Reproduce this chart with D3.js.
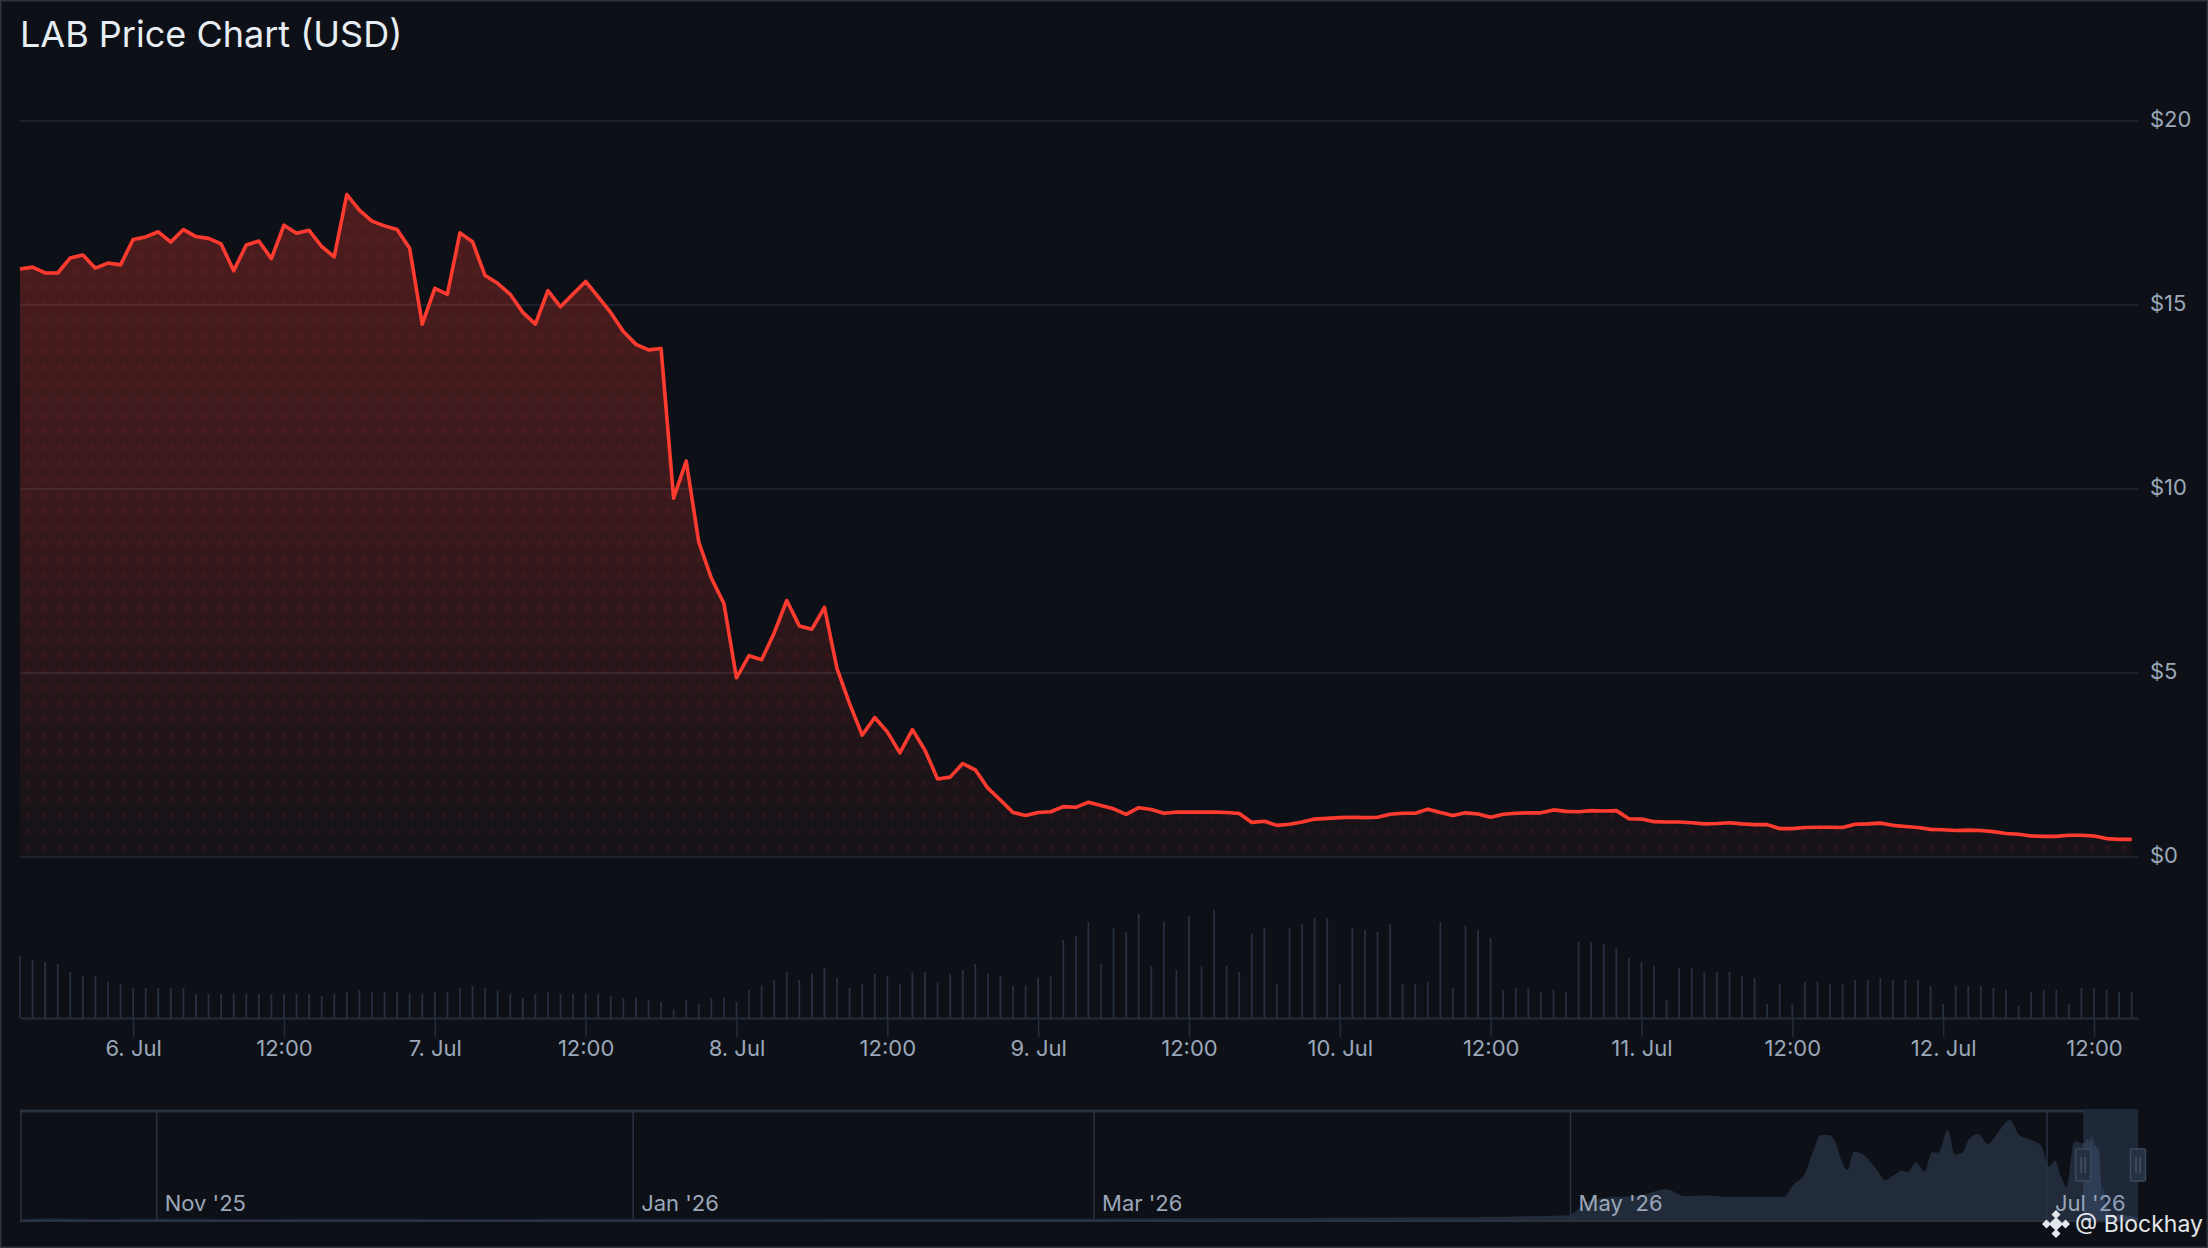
<!DOCTYPE html>
<html>
<head>
<meta charset="utf-8">
<script src="https://cdn.jsdelivr.net/npm/d3@7"></script>
<style>
  html, body { margin: 0; padding: 0; background: #0d1117; }
  svg { display: block; font-family: Inter, "Noto Sans", sans-serif; }
</style>
</head>
<body>
<div id="chart"></div>
<script>
// hourly data, first point 5 Jul 2026 15:00
var startTime = new Date(2026, 6, 5, 15, 0);

var priceValues = [
  15.98, 16.03, 15.87, 15.87, 16.28, 16.36, 16.00, 16.14, 16.09, 16.78,
  16.85, 16.99, 16.71, 17.05, 16.86, 16.81, 16.66, 15.93, 16.63, 16.74,
  16.26, 17.17, 16.95, 17.03, 16.59, 16.31, 18.00, 17.58, 17.28, 17.15,
  17.05, 16.54, 14.48, 15.45, 15.29, 16.96, 16.72, 15.80, 15.59, 15.29,
  14.80, 14.48, 15.39, 14.95, 15.30, 15.64, 15.22, 14.79, 14.28, 13.93,
  13.78, 13.82, 9.75, 10.76, 8.56, 7.58, 6.89, 4.87, 5.47, 5.36,
  6.09, 6.97, 6.28, 6.19, 6.78, 5.12, 4.17, 3.31, 3.79, 3.40,
  2.83, 3.46, 2.90, 2.12, 2.17, 2.54, 2.37, 1.87, 1.55, 1.21,
  1.13, 1.21, 1.23, 1.37, 1.35, 1.49, 1.40, 1.31, 1.16, 1.34,
  1.29, 1.19, 1.22, 1.22, 1.22, 1.22, 1.21, 1.18, 0.94, 0.97,
  0.86, 0.89, 0.95, 1.03, 1.05, 1.07, 1.08, 1.07, 1.08, 1.16,
  1.19, 1.19, 1.30, 1.21, 1.13, 1.20, 1.17, 1.08, 1.16, 1.19,
  1.20, 1.20, 1.28, 1.24, 1.23, 1.26, 1.25, 1.26, 1.04, 1.03,
  0.96, 0.95, 0.95, 0.93, 0.90, 0.91, 0.93, 0.90, 0.88, 0.88,
  0.77, 0.77, 0.80, 0.81, 0.81, 0.80, 0.89, 0.90, 0.92, 0.86,
  0.83, 0.80, 0.75, 0.74, 0.72, 0.73, 0.72, 0.69, 0.64, 0.62,
  0.57, 0.56, 0.56, 0.59, 0.59, 0.57, 0.50, 0.48, 0.48
];

// volume in M USD
var volumeValues = [
  6.2, 5.8, 5.6, 5.4, 4.6, 4.2, 4.2, 3.6, 3.4, 3.0,
  3.0, 3.0, 3.0, 3.0, 2.4, 2.4, 2.4, 2.4, 2.4, 2.4,
  2.4, 2.4, 2.4, 2.4, 2.2, 2.4, 2.6, 2.8, 2.6, 2.6,
  2.6, 2.4, 2.4, 2.6, 2.6, 3.0, 3.2, 3.0, 2.8, 2.4,
  2.0, 2.4, 2.6, 2.4, 2.4, 2.4, 2.4, 2.2, 2.0, 2.0,
  1.8, 1.6, 0.8, 1.8, 1.4, 2.0, 2.0, 1.6, 2.8, 3.2,
  3.8, 4.6, 3.8, 4.4, 5.0, 4.0, 3.0, 3.4, 4.4, 4.2,
  3.4, 4.6, 4.6, 3.6, 4.4, 4.8, 5.4, 4.4, 4.2, 3.2,
  3.2, 4.0, 4.2, 7.8, 8.2, 9.6, 5.4, 9.0, 8.6, 10.4,
  5.2, 9.6, 4.8, 10.2, 5.2, 10.8, 5.2, 4.6, 8.4, 9.0,
  3.4, 9.0, 9.4, 10.0, 10.0, 3.4, 9.0, 8.8, 8.6, 9.4,
  3.4, 3.4, 3.6, 9.6, 3.0, 9.2, 8.8, 8.0, 2.8, 3.0,
  3.0, 2.6, 2.8, 2.6, 7.6, 7.6, 7.4, 7.0, 6.0, 5.6,
  5.2, 1.8, 5.0, 5.0, 4.6, 4.6, 4.6, 4.2, 4.0, 1.4,
  3.4, 1.4, 3.6, 3.6, 3.4, 3.4, 3.8, 3.8, 4.0, 3.8,
  3.8, 3.8, 3.2, 1.4, 3.2, 3.2, 3.2, 3.0, 2.8, 1.2,
  2.6, 2.8, 2.8, 1.4, 3.0, 3.0, 2.8, 2.6, 2.6
];

var yTicks = [0, 5, 10, 15, 20];

// navigator history before the zoomed week
var navDates = [
  "2025-10-14 12", "2025-10-18 00", "2025-10-24 00", "2025-11-02 00", "2025-11-12 00",
  "2025-11-25 00", "2025-12-10 00", "2025-12-28 00", "2026-01-15 00", "2026-02-05 00",
  "2026-02-25 00", "2026-03-15 00", "2026-04-01 00", "2026-04-15 00", "2026-04-22 05",
  "2026-04-30 18", "2026-05-02 07", "2026-05-03 00", "2026-05-05 07", "2026-05-09 19",
  "2026-05-13 07", "2026-05-15 14", "2026-05-18 12", "2026-05-21 10", "2026-05-24 22",
  "2026-05-28 07", "2026-05-29 12", "2026-05-30 22", "2026-06-01 02", "2026-06-02 00",
  "2026-06-03 02", "2026-06-04 00", "2026-06-04 17", "2026-06-05 10", "2026-06-06 07",
  "2026-06-07 17", "2026-06-09 05", "2026-06-10 07", "2026-06-11 12", "2026-06-12 10",
  "2026-06-13 05", "2026-06-14 05", "2026-06-15 07", "2026-06-16 07", "2026-06-17 02",
  "2026-06-18 07", "2026-06-19 05", "2026-06-20 05", "2026-06-21 00", "2026-06-22 05",
  "2026-06-23 10", "2026-06-24 19", "2026-06-26 06", "2026-06-27 10", "2026-06-28 22",
  "2026-06-30 07", "2026-07-01 05", "2026-07-02 01", "2026-07-02 17", "2026-07-03 12",
  "2026-07-04 12"
];
var navValues = [
  0.1, 0.3, 0.15, 0.25, 0.15, 0.2, 0.15, 0.2, 0.2, 0.25,
  0.25, 0.35, 0.45, 0.55, 0.7, 1.0, 2.7, 3.7, 4.6, 5.1,
  6.4, 5.0, 5.1, 4.8, 4.8, 4.8, 7.3, 9.4, 14.4, 17.7,
  17.7, 15.8, 12.3, 10.4, 14.2, 13.3, 10.4, 8.3, 9.4, 10.3,
  10.0, 12.0, 10.1, 14.1, 14.0, 18.7, 13.6, 14.1, 16.8, 17.9,
  15.8, 18.4, 20.8, 17.7, 16.7, 15.4, 11.1, 12.3, 9.4, 6.9,
  16.4
];

var navLabels = ["Nov '25", "Jan '26", "Mar '26", "May '26", "Jul '26"];
var navLabelDates = ["2025-11-01 00", "2026-01-01 00", "2026-03-01 00", "2026-05-01 00", "2026-07-01 00"];

var width = 2208, height = 1248;
var left = 20, right = 2138;
var parseTime = d3.timeParse("%Y-%m-%d %H");

var data = priceValues.map(function(v, i) {
  return { t: d3.timeHour.offset(startTime, i), price: v, vol: volumeValues[i] };
});
var endTime = d3.timeMinute.offset(startTime, 168 * 60 + 30);

var svg = d3.select("#chart").append("svg")
    .attr("width", width)
    .attr("height", height);

svg.append("rect")
    .attr("x", 0.75).attr("y", 0.75)
    .attr("width", width - 1.5).attr("height", height - 1.5)
    .attr("fill", "#0d1117")
    .attr("stroke", "#2d333b")
    .attr("stroke-width", 1.5);

svg.append("text")
    .attr("x", 20)
    .attr("y", 47)
    .attr("fill", "#e6edf3")
    .style("font-size", "36px")
    .text("LAB Price Chart (USD)");

// scales
var x = d3.scaleTime().domain([startTime, endTime]).range([left, right]);
var y = d3.scaleLinear().domain([0, 20]).range([857, 121]);
var yVol = d3.scaleLinear().domain([0, 11]).range([1018, 908]);

var defs = svg.append("defs");
var grad = defs.append("linearGradient")
    .attr("id", "areaGrad")
    .attr("gradientUnits", "userSpaceOnUse")
    .attr("x1", 0).attr("x2", 0)
    .attr("y1", y(18)).attr("y2", y(0));
grad.append("stop").attr("offset", "0%").attr("stop-color", "#ff3b30").attr("stop-opacity", 0.27);
grad.append("stop").attr("offset", "50%").attr("stop-color", "#ff3b30").attr("stop-opacity", 0.18);
grad.append("stop").attr("offset", "100%").attr("stop-color", "#ff3b30").attr("stop-opacity", 0.03);

var dots = defs.append("pattern")
    .attr("id", "dots")
    .attr("patternUnits", "userSpaceOnUse")
    .attr("x", 3.7).attr("y", 7.7)
    .attr("width", 16).attr("height", 16);
dots.append("circle")
    .attr("cx", 8).attr("cy", 8).attr("r", 2.6)
    .attr("fill", "#ff3b30").attr("fill-opacity", 0.07);

// gridlines + y labels
var grid = svg.append("g");
grid.selectAll("line")
    .data(yTicks)
    .enter()
    .append("line")
    .attr("x1", left).attr("x2", right)
    .attr("y1", d => y(d)).attr("y2", d => y(d))
    .attr("stroke", "#222933")
    .attr("stroke-width", 1.5);
grid.selectAll("text")
    .data(yTicks)
    .enter()
    .append("text")
    .attr("x", 2150)
    .attr("y", d => y(d) - 2)
    .attr("dy", "0.35em")
    .attr("fill", "#9ba7b9")
    .style("font-size", "22px")
    .text(d => "$" + d);

// price area + line
var area = d3.area()
    .x(d => x(d.t))
    .y0(y(0))
    .y1(d => y(d.price));
var line = d3.line()
    .x(d => x(d.t))
    .y(d => y(d.price));

svg.append("path").datum(data).attr("d", area).attr("fill", "url(#areaGrad)");
svg.append("path").datum(data).attr("d", area).attr("fill", "url(#dots)");
svg.append("path").datum(data)
    .attr("d", line)
    .attr("fill", "none")
    .attr("stroke", "#ff3b30")
    .attr("stroke-width", 3.6)
    .attr("stroke-linejoin", "round");

// volume bars
svg.append("g").selectAll("line")
    .data(data)
    .enter()
    .append("line")
    .attr("x1", d => x(d.t)).attr("x2", d => x(d.t))
    .attr("y1", yVol(0)).attr("y2", d => yVol(d.vol))
    .attr("stroke", "#263040")
    .attr("stroke-width", 1.8);

// x axis
var xAxis = d3.axisBottom(x)
    .ticks(d3.timeHour.every(12))
    .tickSizeInner(19)
    .tickSizeOuter(0)
    .tickFormat(function(d) {
      return d.getHours() === 0 ? d3.timeFormat("%-d. %b")(d) : d3.timeFormat("%H:%M")(d);
    });
var gx = svg.append("g")
    .attr("transform", "translate(0," + yVol(0) + ")")
    .call(xAxis);
gx.select(".domain").attr("stroke", "#242d3a").attr("stroke-width", 2);
gx.selectAll(".tick line").attr("stroke", "#242d3a").attr("stroke-width", 1.5);
gx.selectAll(".tick text")
    .attr("y", 22)
    .attr("fill", "#9ba7b9")
    .style("font-size", "22px")
    .style("font-family", "Inter, 'Noto Sans', sans-serif");

// navigator
var navData = navDates.map(function(d, i) { return { t: parseTime(d), price: navValues[i] }; })
    .concat(data);
var navTop = 1111, navBottom = 1221;
var xNav = d3.scaleTime().domain([parseTime("2025-10-14 12"), endTime]).range([left, right]);
var yNav = d3.scaleLinear().domain([0, d3.max(navData, d => d.price)]).range([navBottom - 1, 1120]);

svg.append("path").datum(navData)
    .attr("d", d3.area().curve(d3.curveMonotoneX)
      .x(d => xNav(d.t)).y0(navBottom - 1).y1(d => yNav(d.price)))
    .attr("fill", "#222b39");

var navG = svg.append("g");
navG.selectAll("line")
    .data(navLabelDates)
    .enter()
    .append("line")
    .attr("x1", d => xNav(parseTime(d))).attr("x2", d => xNav(parseTime(d)))
    .attr("y1", navTop).attr("y2", navBottom)
    .attr("stroke", "#283241")
    .attr("stroke-width", 1.5);
navG.selectAll("text")
    .data(navLabels)
    .enter()
    .append("text")
    .attr("x", (d, i) => xNav(parseTime(navLabelDates[i])) + 8)
    .attr("y", 1211)
    .attr("fill", "#9ba7b9")
    .style("font-size", "22px")
    .text(d => d);

// selected range
var selX = xNav(startTime);
svg.append("rect")
    .attr("x", selX).attr("y", navTop - 2)
    .attr("width", right - selX).attr("height", navBottom - navTop + 2)
    .attr("fill", "#6685c2").attr("fill-opacity", 0.2);

svg.append("line")
    .attr("x1", left).attr("x2", selX).attr("y1", navTop).attr("y2", navTop)
    .attr("stroke", "#283241").attr("stroke-width", 3);
svg.append("line")
    .attr("x1", left).attr("x2", right).attr("y1", navBottom).attr("y2", navBottom)
    .attr("stroke", "#283241").attr("stroke-width", 2);
svg.append("line")
    .attr("x1", left + 1).attr("x2", left + 1).attr("y1", navTop).attr("y2", navBottom)
    .attr("stroke", "#283241").attr("stroke-width", 1.5);

// handles
[selX, right].forEach(function(hx) {
  var h = svg.append("g").attr("transform", "translate(" + hx + ",1165)");
  h.append("rect")
      .attr("x", -7.5).attr("y", -16)
      .attr("width", 15).attr("height", 32)
      .attr("rx", 1.5)
      .attr("fill", "#253042")
      .attr("stroke", "#3d4a5e")
      .attr("stroke-width", 1.5);
  h.append("line").attr("x1", -2).attr("x2", -2).attr("y1", -8).attr("y2", 8)
      .attr("stroke", "#4d5b70").attr("stroke-width", 1.2);
  h.append("line").attr("x1", 2).attr("x2", 2).attr("y1", -8).attr("y2", 8)
      .attr("stroke", "#4d5b70").attr("stroke-width", 1.2);
});

// watermark
var wm = svg.append("g").attr("transform", "translate(2056,1224)").attr("fill", "#e3e6ea");
[[0, 0, 5], [0, -9.5, 3.2], [0, 9.5, 3.2], [-9.5, 0, 3.2], [9.5, 0, 3.2]].forEach(function(p) {
  wm.append("rect")
      .attr("x", -p[2]).attr("y", -p[2])
      .attr("width", p[2] * 2).attr("height", p[2] * 2)
      .attr("transform", "translate(" + p[0] + "," + p[1] + ") rotate(45)");
});
svg.append("text")
    .attr("x", 2075)
    .attr("y", 1232)
    .attr("fill", "#e3e6ea")
    .style("font-size", "23px")
    .text("@ Blockhay");
</script>
</body>
</html>
